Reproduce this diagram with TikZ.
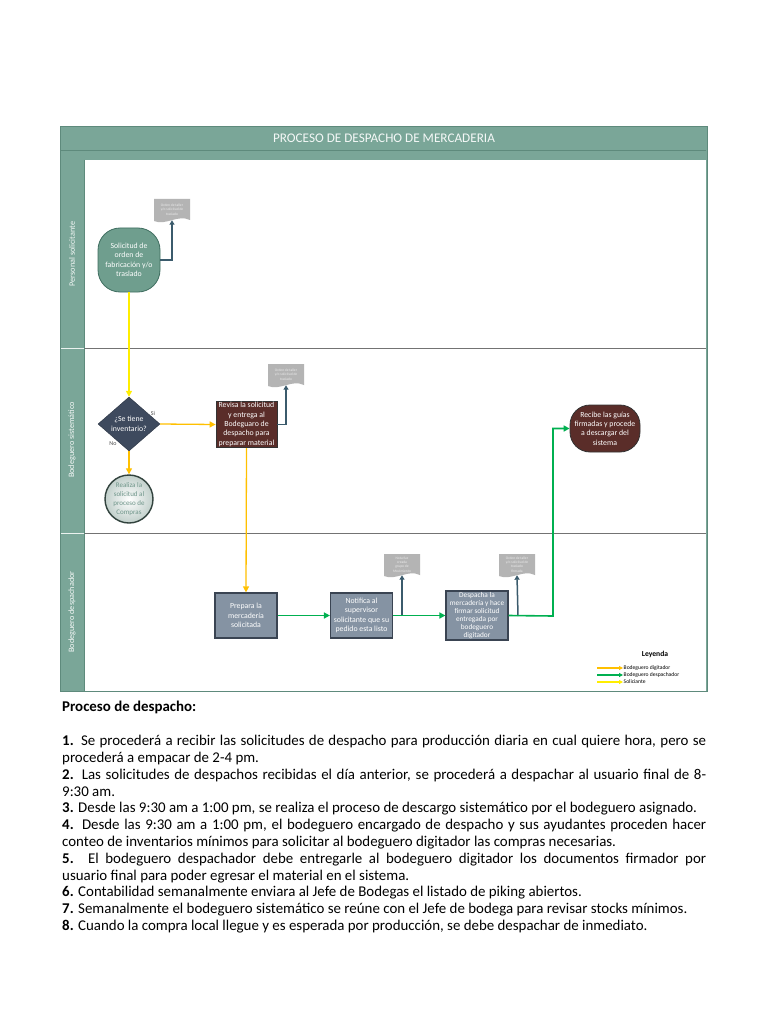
\documentclass[tikz,border=0pt]{standalone}
\usepackage{fontspec}
\setmainfont{Carlito}
\usetikzlibrary{arrows.meta,shapes.geometric,calc}
\definecolor{lane}{HTML}{7AA698}
\definecolor{lanedark}{HTML}{5E8A7C}
\definecolor{tealnode}{HTML}{6F9E8E}
\definecolor{tealborder}{HTML}{3F6E60}
\definecolor{slate}{HTML}{3E4A5E}
\definecolor{brownn}{HTML}{5A2D29}
\definecolor{grayn}{HTML}{8593A3}
\definecolor{grayborder}{HTML}{3A4452}
\definecolor{docfillc}{HTML}{B4B4B4}
\definecolor{doclinec}{HTML}{3B5B6C}
\definecolor{orangec}{HTML}{FFC000}
\definecolor{yellowc}{HTML}{FFEE00}
\definecolor{greenc}{RGB}{0,176,80}
\tikzset{
  nodetext/.style={text=white, align=center, font=\fontsize{7.8}{9.4}\selectfont, inner sep=1pt},
  stadium/.style={nodetext, rounded corners=22pt, minimum width=62pt, minimum height=64pt, fill=tealnode, draw=tealborder, line width=0.8},
  decision/.style={nodetext, diamond, aspect=1.15, minimum width=62pt, minimum height=54pt, inner sep=0pt, fill=slate, draw=slate!70!black},
  brownbox/.style={nodetext, rectangle, minimum width=61pt, minimum height=45pt, fill=brownn, draw=black!80, line width=0.8},
  graybox/.style={nodetext, rectangle, minimum width=62pt, minimum height=45pt, fill=grayn, draw=grayborder, line width=1.2},
  doctext/.style={text=white!92!black, align=center, font=\fontsize{3.6}{4.3}\selectfont, minimum width=36pt, minimum height=21pt, inner sep=0pt},
  docfill/.style={fill=docfillc},
  docline/.style={draw=doclinec, line width=1.5, -{Triangle[length=4.5pt,width=5pt]}},
  yline/.style={draw=yellowc, line width=1.3, -{Triangle[length=6pt,width=6pt]}},
  oline/.style={draw=orangec, line width=1.3, -{Triangle[length=6pt,width=6pt]}},
  gline/.style={draw=greenc, color=greenc, line width=1.6, -{Triangle[length=6pt,width=6pt]}},
  lanelabel/.style={text=white!92!lane, font=\fontsize{8.2}{10}\selectfont, rotate=90},
  legtext/.style={anchor=west, font=\fontsize{5.6}{6.5}\selectfont, inner sep=0.5pt},
  body/.style={anchor=base west, inner sep=0pt, font=\fontsize{14.9}{16.8}\selectfont}
}
\newcommand\docshape[4]{%
  \fill[docfill] (#2-18,#3-12) -- (#2+18,#3-12) -- (#2+18,#3+9)
    .. controls (#2+6,#3+3) and (#2-6,#3+15) .. (#2-18,#3+10) -- cycle;
  \node[doctext] (#1) at (#2,#3-1.5) {#4};
}
\begin{document}
\begin{tikzpicture}[x=1pt,y=-1pt]
\useasboundingbox[fill=white] (0,0) rectangle (768,1024);
% pool
\fill[lane] (60,127) rectangle (707,160);
\fill[lane] (60,160) rectangle (84,691);
\draw[lanedark, line width=0.8] (60,150) -- (707,150);
\draw[white!85!lane, line width=0.6] (60,348) -- (84,348);
\draw[white!85!lane, line width=0.6] (60,533) -- (84,533);
\draw[black!55, line width=0.8] (84,348) -- (707,348);
\draw[black!55, line width=0.8] (84,533) -- (707,533);
\draw[lanedark, line width=0.8] (84,160) -- (84,691);
\draw[lane, line width=1.6] (707,127) -- (707,691);
\draw[lanedark, line width=1] (60,127) rectangle (707,691);
\node[text=white!92!lane, font=\fontsize{13.2}{14}\selectfont] (title) at (384,138) {PROCESO DE DESPACHO DE MERCADERIA};
\node[lanelabel] (l1) at (72,254) {Personal solicitante};
\node[lanelabel] (l2) at (72,440) {Bodeguero sistemático};
\node[lanelabel] (l3) at (72,612) {Bodeguero despachador};
% documents
\docshape{d1}{172}{211}{Orden de taller\\y/o solicitud de\\traslado}
\docshape{d2}{286}{376}{Orden de taller\\y/o solicitud de\\traslado}
\docshape{d3}{402}{566}{Nota fue\\creada\\grupo de\\Movimiento}
\docshape{d4}{517}{566}{Orden de taller\\y/o solicitud de\\traslado\\firmada}
% nodes
\node[stadium] (s) at (129,260) {Solicitud de\\orden de\\fabricación y/o\\traslado};
\node[decision] (q) at (129,424) {¿Se tiene\\inventario?};
\node[font=\fontsize{6}{7}\selectfont, text=black!70] (si) at (153,413) {Si};
\node[font=\fontsize{6}{7}\selectfont, text=black!70] (no) at (113,444) {No};
\node[circle, minimum size=48pt, inner sep=0pt, inner color=white, outer color=black!18!lane!40, draw=black!60!lane, line width=1.4, align=center, text=lane!90!black, font=\fontsize{7}{9}\selectfont] (r) at (129,499) {Realiza la\\solicitud al\\proceso de\\Compras};
\node[brownbox] (rev) at (246.5,424.5) {Revisa la solicitud\\y entrega al\\Bodeguaro de\\despacho para\\preparar material};
\node[graybox] (p) at (246,615.5) {Prepara la\\mercadería\\solicitada};
\node[graybox] (n) at (361.5,615.5) {Notifica al\\supervisor\\solicitante que su\\pedido esta listo};
\node[graybox, font=\fontsize{7.3}{8.1}\selectfont] (dp) at (477,615.5) {Despacha la\\mercadería y hace\\firmar solicitud\\entregada por\\bodeguero\\digitador};
\node[stadium, fill=brownn, draw=black!80, minimum width=70pt, minimum height=47pt, rounded corners=20pt] (rc) at (605,428.5) {Recibe las guías\\firmadas y procede\\a descargar del\\sistema};
% connectors
\draw[docline] (s.east) -| (d1.south);
\draw[docline] (rev.east) -| (d2.south);
\draw[yline] (s.south) -- (q.north);
\draw[oline] (q.east) -- (rev.west);
\draw[oline] (q.south) -- (r.north);
\draw[oline] (rev.south) -- (p.north);
\coordinate (c3) at (402,616);
\coordinate (c4) at (518,616);
\coordinate (c5) at (553,616);
\draw[docline] (c3) -- (d3.south);
\draw[docline] (c4) -- (d4.south);
\draw[gline] (p.east) -- (n.west);
\draw[gline] (n.east) -- (dp.west);
\draw[gline] (dp.east) -- (c5) |- (rc.west);
% legend
\node[font=\bfseries\fontsize{7.6}{9}\selectfont] (leg) at (655,654) {Leyenda};
\coordinate (la1) at (597,668); \coordinate (lb1) at (623,668);
\coordinate (la2) at (597,675); \coordinate (lb2) at (623,675);
\coordinate (la3) at (597,682); \coordinate (lb3) at (623,682);
\draw[oline, line width=1.1, -{Triangle[length=4pt,width=4pt]}] (la1) -- (lb1);
\draw[gline, line width=1.1, -{Triangle[length=4pt,width=4pt]}] (la2) -- (lb2);
\draw[yline, line width=1.1, -{Triangle[length=4pt,width=4pt]}] (la3) -- (lb3);
\node[legtext] (lt1) at (lb1) {Bodeguero digitador};
\node[legtext] (lt2) at (lb2) {Bodeguero despachador};
\node[legtext] (lt3) at (lb3) {Soliciante};
% text
\node[body] (t0) at (62,711) {\bfseries Proceso de despacho:};
\node[body] (t1) at (62,745) {\makebox[644pt][s]{\textbf{1.} Se procederá a recibir las solicitudes de despacho para producción diaria en cual quiere hora, pero se}};
\node[body] (t2) at (62,762) {procederá a empacar de 2-4 pm.};
\node[body] (t3) at (62,779) {\makebox[644pt][s]{\textbf{2.} Las solicitudes de despachos recibidas el día anterior, se procederá a despachar al usuario final de 8-}};
\node[body] (t4) at (62,796) {9:30 am.};
\node[body] (t5) at (62,812) {\textbf{3.} Desde las 9:30 am a 1:00 pm, se realiza el proceso de descargo sistemático por el bodeguero asignado.};
\node[body] (t6) at (62,829) {\makebox[644pt][s]{\textbf{4.} Desde las 9:30 am a 1:00 pm, el bodeguero encargado de despacho y sus ayudantes proceden hacer}};
\node[body] (t7) at (62,846) {conteo de inventarios mínimos para solicitar al bodeguero digitador las compras necesarias.};
\node[body] (t8) at (62,863) {\makebox[644pt][s]{\textbf{5.} El bodeguero despachador debe entregarle al bodeguero digitador los documentos firmador por}};
\node[body] (t9) at (62,880) {usuario final para poder egresar el material en el sistema.};
\node[body] (t10) at (62,896) {\textbf{6.} Contabilidad semanalmente enviara al Jefe de Bodegas el listado de piking abiertos.};
\node[body] (t11) at (62,913) {\textbf{7.} Semanalmente el bodeguero sistemático se reúne con el Jefe de bodega para revisar stocks mínimos.};
\node[body] (t12) at (62,930) {\textbf{8.} Cuando la compra local llegue y es esperada por producción, se debe despachar de inmediato.};
\end{tikzpicture}
\end{document}
